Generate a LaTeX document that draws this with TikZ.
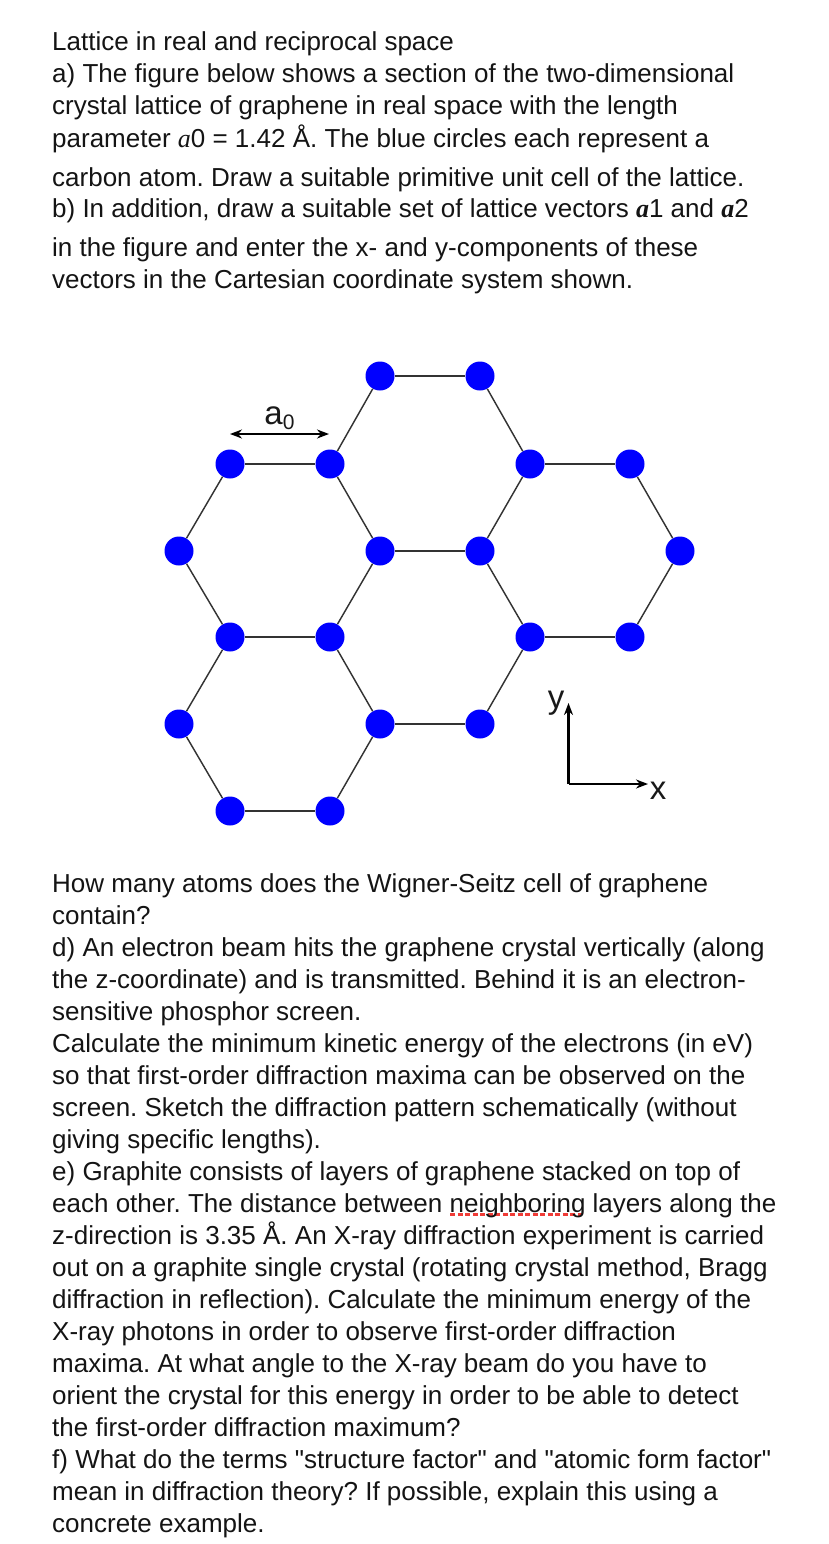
\documentclass[tikz,border=0pt]{standalone}
\usepackage{fontspec}
\setmainfont[Ligatures=TeXOff]{Liberation Sans}
\newfontfamily\serifit[ItalicFont={Liberation Serif Italic},BoldItalicFont={Liberation Serif Bold Italic}]{Liberation Serif}
\usetikzlibrary{arrows.meta}
\frenchspacing
\definecolor{spellred}{RGB}{240,60,55}
\tikzset{
  txt/.style={anchor=base west,inner sep=0pt,font=\fontsize{26}{32}\selectfont,text=black!92},
  atom/.style={circle,fill=blue,draw=none,minimum size=29pt,inner sep=0pt},
  bond/.style={draw=black!80,line width=1.45pt},
  dim/.style={line width=2pt,{Stealth[length=12pt,width=9pt]}-{Stealth[length=12pt,width=9pt]}},
  axis/.style={line width=2.4pt,-{Stealth[length=12pt,width=9pt]}},
  lbl/.style={inner sep=0pt,font=\fontsize{33}{33}\selectfont,text=black!90},
  spell/.style={draw=spellred,line width=2.4pt,dash pattern=on 5pt off 2.5pt}
}
\newcommand{\ital}[1]{{\serifit\itshape #1}}
\newcommand{\boldit}[1]{{\serifit\bfseries\itshape #1}}
\begin{document}
\begin{tikzpicture}[x=1pt,y=-1pt]
\useasboundingbox (0,0) rectangle (828,1544);
% spell-check underline (under the text)
\coordinate (s1) at (450,1214.5);
\coordinate (s2) at (582,1214.5);
\draw[spell] (s1) -- (s2);
% upper text
\node[txt] (t1) at (52,51) {Lattice in real and reciprocal space};
\node[txt] (t2) at (52,83) {a) The figure below shows a section of the two-dimensional};
\node[txt] (t3) at (52,115) {crystal lattice of graphene in real space with the length};
\node[txt] (t4) at (52,147) {parameter \ital{a}0 = 1.42 Å. The blue circles each represent a};
\node[txt] (t5) at (52,186) {carbon atom. Draw a suitable primitive unit cell of the lattice.};
\node[txt] (t6) at (52,217) {b) In addition, draw a suitable set of lattice vectors \boldit{a}1 and \boldit{a}2};
\node[txt] (t7) at (52,256) {in the figure and enter the x- and y-components of these};
\node[txt] (t8) at (52,288) {vectors in the Cartesian coordinate system shown.};
% atoms
\foreach \n/\x/\y in {A/380/376,B/480/376,
  C/230/464,D/330/464,E/530/464,F/630/464,
  G/179/551,H/380/551,I/480/551,J/680/551,
  K/230/637,L/330/637,M/530/637,N/630/637,
  O/179/724,P/380/724,Q/480/724,
  R/230/811,S/330/811}
  \node[atom] (\n) at (\x,\y) {};
% bonds
\foreach \a/\b in {A/B,D/A,B/E,C/D,E/F,C/G,D/H,E/I,F/J,H/I,G/K,H/L,I/M,J/N,K/L,M/N,K/O,L/P,M/Q,P/Q,O/R,P/S,R/S}
  \draw[bond] (\a) -- (\b);
% a0 dimension
\coordinate (dl) at (230,434);
\coordinate (dr) at (329,434);
\draw[dim] (dl) -- (dr);
\node[lbl,anchor=base] (a0) at (279.5,424) {a\raisebox{-5pt}{\fontsize{21}{21}\selectfont 0}};
% axes
\coordinate (o) at (568.5,784);
\coordinate (yt) at (568.5,703);
\coordinate (xt) at (648,784);
\draw[axis] (o) -- (yt);
\draw[axis] (o) -- (xt);
\node[lbl,anchor=base] (ylab) at (556,708) {y};
\node[lbl,anchor=base] (xlab) at (658,799) {x};
% lower text
\node[txt] (u1) at (52,892) {How many atoms does the Wigner-Seitz cell of graphene};
\node[txt] (u2) at (52,924) {contain?};
\node[txt] (u3) at (52,956) {d) An electron beam hits the graphene crystal vertically (along};
\node[txt] (u4) at (52,988) {the z-coordinate) and is transmitted. Behind it is an electron-};
\node[txt] (u5) at (52,1020) {sensitive phosphor screen.};
\node[txt] (u6) at (52,1052) {Calculate the minimum kinetic energy of the electrons (in eV)};
\node[txt] (u7) at (52,1084) {so that first-order diffraction maxima can be observed on the};
\node[txt] (u8) at (52,1116) {screen. Sketch the diffraction pattern schematically (without};
\node[txt] (u9) at (52,1148) {giving specific lengths).};
\node[txt] (u10) at (52,1180) {e) Graphite consists of layers of graphene stacked on top of};
\node[txt] (u11) at (52,1212) {each other. The distance between neighboring layers along the};
\node[txt] (u12) at (52,1244) {z-direction is 3.35 Å. An X-ray diffraction experiment is carried};
\node[txt] (u13) at (52,1276) {out on a graphite single crystal (rotating crystal method, Bragg};
\node[txt] (u14) at (52,1308) {diffraction in reflection). Calculate the minimum energy of the};
\node[txt] (u15) at (52,1340) {X-ray photons in order to observe first-order diffraction};
\node[txt] (u16) at (52,1372) {maxima. At what angle to the X-ray beam do you have to};
\node[txt] (u17) at (52,1404) {orient the crystal for this energy in order to be able to detect};
\node[txt] (u18) at (52,1436) {the first-order diffraction maximum?};
\node[txt] (u19) at (52,1468) {f) What do the terms "structure factor" and "atomic form factor"};
\node[txt] (u20) at (52,1500) {mean in diffraction theory? If possible, explain this using a};
\node[txt] (u21) at (52,1532) {concrete example.};
\end{tikzpicture}
\end{document}
